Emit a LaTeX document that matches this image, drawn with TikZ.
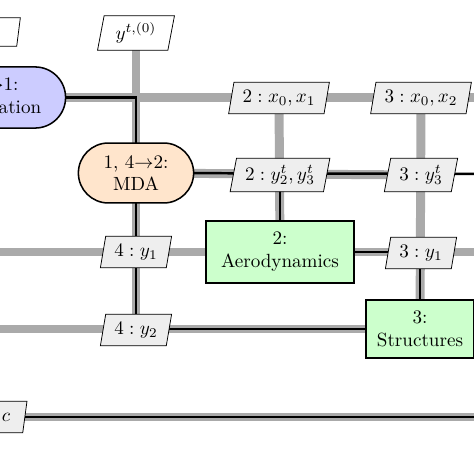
\documentclass[tikz,border=0pt]{standalone}
\usetikzlibrary{shapes.geometric,shapes.misc}
\pgfdeclarelayer{greyl}
\pgfdeclarelayer{blackl}
\pgfsetlayers{greyl,blackl,main}
\definecolor{dline}{RGB}{170,170,170}
\definecolor{iofill}{RGB}{238,238,238}
\tikzset{
  optbox/.style={draw,rounded rectangle,fill=blue!20,align=center,minimum height=32pt,minimum width=90pt,thick},
  mdabox/.style={draw,rounded rectangle,fill=orange!20,align=center,minimum height=31.4pt,minimum width=67pt,thick},
  anbox/.style={draw,rectangle,fill=green!20,align=center,thick},
  dio/.style={draw,trapezium,trapezium left angle=75,trapezium right angle=105,fill=iofill,minimum height=16.5pt,inner xsep=4.5pt,inner ysep=1pt,trapezium stretches=true},
  dinput/.style={dio,fill=white},
  dataline/.style={color=dline,line width=4.7pt},
  procline/.style={color=black,line width=1.3pt},
}
\begin{document}
\begin{tikzpicture}[x=0.5236pt,y=-0.5236pt]
\useasboundingbox (0,0) rectangle (474,474);
% nodes
\node[optbox] (opt) at (-14,97.5) {0, 5$\rightarrow$1:\\Optimization};
\node[dinput,minimum width=36pt,minimum height=15pt] (xin) at (-14,32) {};
\node[dinput,minimum height=18pt,inner xsep=6pt] (yt0) at (136,33) {$y^{t,(0)}$};
\node[mdabox] (mda) at (136,173) {1, 4$\rightarrow$2:\\MDA};
\node[dio] (d2x) at (279,98) {$2: x_0, x_1$};
\node[dio] (d3x) at (421,98) {$3: x_0, x_2$};
\node[dio,minimum height=17.5pt] (d2y) at (280,175) {$2: y_2^t, y_3^t$};
\node[dio,minimum height=17.5pt] (d3y) at (421,175) {$3: y_3^t$};
\node[anbox,minimum width=77.5pt,minimum height=32.5pt] (aero) at (280,252) {2:\\Aerodynamics};
\node[dio] (d3y1) at (421,253) {$3: y_1$};
\node[dio] (d4y1) at (136,252) {$4: y_1$};
\node[dio] (d4y2) at (136,330) {$4: y_2$};
\node[anbox,minimum width=56.5pt,minimum height=30.4pt] (struct) at (420,329) {3:\\Structures};
\node[dio,minimum width=22pt] (cc) at (6,417) {$c$};
% edge coordinates
\coordinate (R97) at (490,97.5);
\coordinate (R173) at (490,174);
\coordinate (L252) at (-20,252);
\coordinate (R252) at (490,252);
\coordinate (L329) at (-20,329);
\coordinate (R417) at (490,417);
% data lines
\begin{pgfonlayer}{greyl}
\draw[dataline] (opt.center) -- (R97);
\draw[dataline] (yt0.center) -- (d4y2.center);
\draw[dataline] (d2x.center) -- (aero.center);
\draw[dataline] (d3x.center) -- (struct.center);
\draw[dataline] (mda.center) -- (d3y.center);
\draw[dataline] (L252) -- (R252);
\draw[dataline] (L329) -- (struct.center);
\draw[dataline] (cc.center) -- (R417);
\end{pgfonlayer}
% process lines
\begin{pgfonlayer}{blackl}
\draw[procline] (opt.center) -| (mda.center);
\draw[procline] (struct.center) -| (mda.center);
\draw[procline] (mda.center) -- (R173);
\draw[procline] (d2y.center) -- (aero.center);
\draw[procline] (aero.center) -| (struct.center);
\draw[procline] (cc.center) -- (R417);
\end{pgfonlayer}
\end{tikzpicture}
\end{document}
